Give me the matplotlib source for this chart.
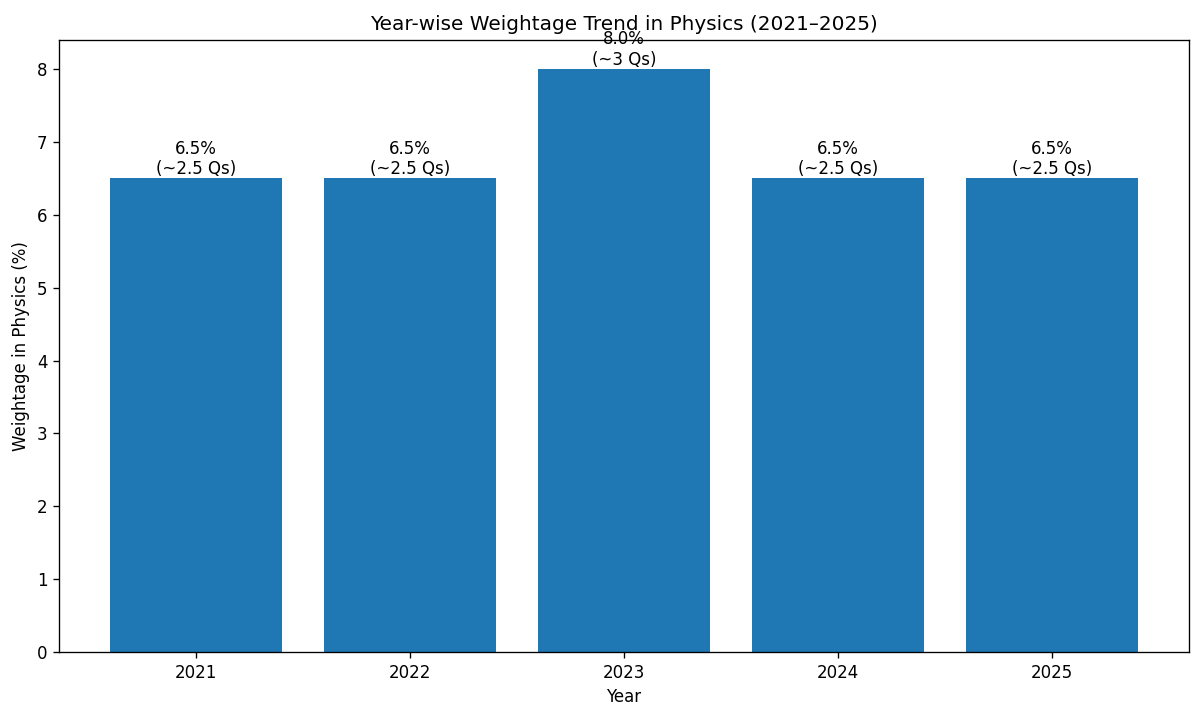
import matplotlib
matplotlib.use("Agg")
import matplotlib.pyplot as plt

years = ["2021", "2022", "2023", "2024", "2025"]
weightage = [6.5, 6.5, 8.0, 6.5, 6.5]
questions = ["~2.5", "~2.5", "~3", "~2.5", "~2.5"]

fig, ax = plt.subplots(figsize=(10, 716 / 120), dpi=120)
bars = ax.bar(years, weightage, color="#1f77b4")

# label on top of each bar
for b, w, q in zip(bars, weightage, questions):
    ax.text(b.get_x() + b.get_width() / 2, b.get_height(), f"{w}%\n({q} Qs)",
            ha="center", va="bottom")

ax.set_title("Year-wise Weightage Trend in Physics (2021\u20132025)")
ax.set_xlabel("Year")
ax.set_ylabel("Weightage in Physics (%)")

# match the reference axes box
fig.subplots_adjust(left=59 / 1200, right=1189 / 1200, top=1 - 40 / 716, bottom=1 - 652 / 716)
plt.savefig("out.png")
